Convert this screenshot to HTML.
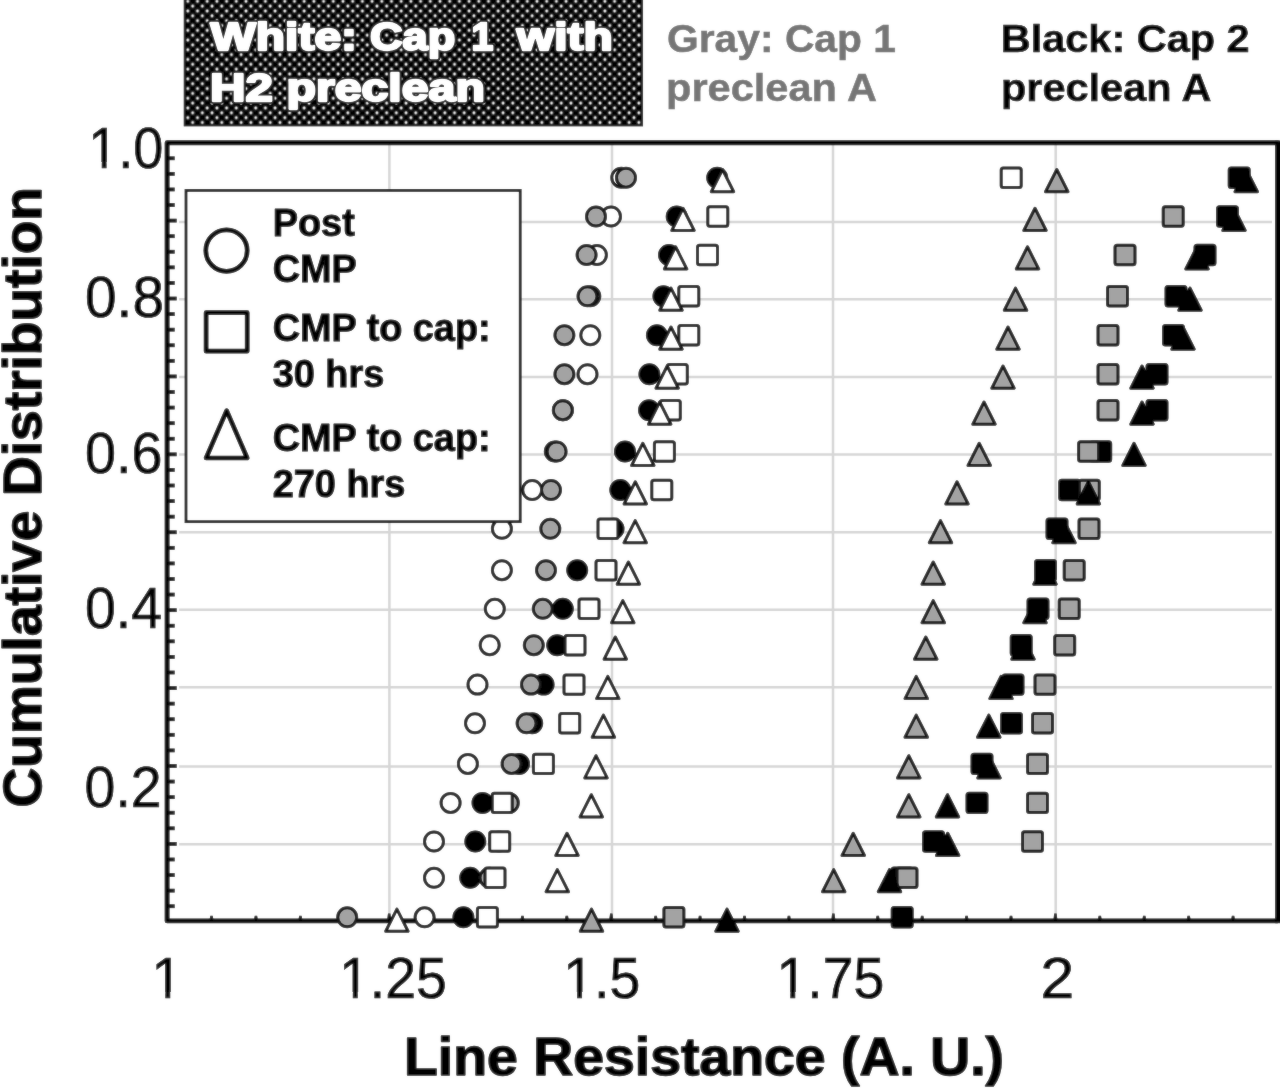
<!DOCTYPE html>
<html lang="en"><head><meta charset="utf-8"><title>Cumulative Distribution vs Line Resistance</title>
<style>
html,body{margin:0;padding:0;background:#fff;}
body{width:1280px;height:1088px;overflow:hidden;}
svg{display:block;}
text{font-family:"Liberation Sans",Arial,Helvetica,sans-serif;}
.b{font-weight:bold;}
</style></head><body>
<svg width="1280" height="1088" viewBox="0 0 1280 1088">
<defs>
<pattern id="dots" x="182.95" y="-3.6" width="9.7" height="9.7" patternUnits="userSpaceOnUse">
<rect width="9.7" height="9.7" fill="#000"/>
<circle cx="4.85" cy="4.85" r="1.6" fill="#dcdcdc"/>
<circle cx="0" cy="0" r="1.6" fill="#dcdcdc"/><circle cx="9.7" cy="0" r="1.6" fill="#dcdcdc"/>
<circle cx="0" cy="9.7" r="1.6" fill="#dcdcdc"/><circle cx="9.7" cy="9.7" r="1.6" fill="#dcdcdc"/>
</pattern>
<g id="wt" class="b" font-size="38.5"><text y="49.6"><tspan x="210.60" textLength="146.42" lengthAdjust="spacingAndGlyphs">White:</tspan> <tspan x="370.01" textLength="85.18" lengthAdjust="spacingAndGlyphs">Cap</tspan> <tspan x="471.48" textLength="21.84" lengthAdjust="spacingAndGlyphs">1</tspan> <tspan x="516.89" textLength="95.97" lengthAdjust="spacingAndGlyphs">with</tspan></text><text y="100.9"><tspan x="209.97" textLength="62.95" lengthAdjust="spacingAndGlyphs">H2</tspan> <tspan x="286.48" textLength="198.43" lengthAdjust="spacingAndGlyphs">preclean</tspan></text></g>
</defs>
<filter id="soft" filterUnits="userSpaceOnUse" x="-30" y="-30" width="1340" height="1148"><feGaussianBlur in="SourceGraphic" stdDeviation="0.85" result="b"/><feComposite in="SourceGraphic" in2="b" operator="arithmetic" k1="0" k2="0.72" k3="0.28" k4="0"/></filter>
<g filter="url(#soft)">
<rect x="-30" y="-30" width="1340" height="1148" fill="#fff"/>
<!-- header -->
<rect x="184.5" y="-2" width="457.8" height="127.6" fill="url(#dots)"/>
<rect x="184.5" y="-2" width="457.8" height="127.6" fill="none" stroke="#000" stroke-width="1.5"/>
<use href="#wt" fill="#fff" stroke="#000" stroke-width="5.4" stroke-linejoin="round"/><use href="#wt" fill="#fff" stroke="#fff" stroke-width="2.3" stroke-linejoin="round"/>
<g class="b" font-size="38.5" fill="#757575" stroke="#757575" stroke-width="0.5">
<text x="667" y="52" textLength="229" lengthAdjust="spacingAndGlyphs">Gray: Cap 1</text>
<text x="666" y="100.6" textLength="211" lengthAdjust="spacingAndGlyphs">preclean A</text>
</g>
<g class="b" font-size="38.5" fill="#000" stroke="#000" stroke-width="0.6">
<text x="1000.7" y="52" textLength="249" lengthAdjust="spacingAndGlyphs">Black: Cap 2</text>
<text x="1001" y="100.6" textLength="210.5" lengthAdjust="spacingAndGlyphs">preclean A</text>
</g>
<!-- plot -->
<g stroke="#d6d6d6" stroke-width="2.5" fill="none"><line x1="389.4" y1="142.8" x2="389.4" y2="920.9"/><line x1="612" y1="142.8" x2="612" y2="920.9"/><line x1="833" y1="142.8" x2="833" y2="920.9"/><line x1="1055.7" y1="142.8" x2="1055.7" y2="920.9"/><line x1="179.1" y1="222" x2="1272.0" y2="222"/><line x1="179.1" y1="299.3" x2="1272.0" y2="299.3"/><line x1="179.1" y1="377" x2="1272.0" y2="377"/><line x1="179.1" y1="454.6" x2="1272.0" y2="454.6"/><line x1="179.1" y1="532.2" x2="1272.0" y2="532.2"/><line x1="179.1" y1="609.8" x2="1272.0" y2="609.8"/><line x1="179.1" y1="687.2" x2="1272.0" y2="687.2"/><line x1="179.1" y1="766.6" x2="1272.0" y2="766.6"/><line x1="179.1" y1="844.2" x2="1272.0" y2="844.2"/></g>
<g stroke="#000" stroke-width="3.8" stroke-linecap="butt"><line x1="167.1" y1="906.22" x2="174.7" y2="906.22"/><line x1="167.1" y1="890.64" x2="174.7" y2="890.64"/><line x1="167.1" y1="875.05" x2="174.7" y2="875.05"/><line x1="167.1" y1="859.47" x2="174.7" y2="859.47"/><line x1="167.1" y1="843.89" x2="176.7" y2="843.89"/><line x1="167.1" y1="828.31" x2="174.7" y2="828.31"/><line x1="167.1" y1="812.73" x2="174.7" y2="812.73"/><line x1="167.1" y1="797.14" x2="174.7" y2="797.14"/><line x1="167.1" y1="781.56" x2="174.7" y2="781.56"/><line x1="167.1" y1="765.98" x2="176.7" y2="765.98"/><line x1="167.1" y1="750.40" x2="174.7" y2="750.40"/><line x1="167.1" y1="734.82" x2="174.7" y2="734.82"/><line x1="167.1" y1="719.23" x2="174.7" y2="719.23"/><line x1="167.1" y1="703.65" x2="174.7" y2="703.65"/><line x1="167.1" y1="688.07" x2="176.7" y2="688.07"/><line x1="167.1" y1="672.49" x2="174.7" y2="672.49"/><line x1="167.1" y1="656.91" x2="174.7" y2="656.91"/><line x1="167.1" y1="641.32" x2="174.7" y2="641.32"/><line x1="167.1" y1="625.74" x2="174.7" y2="625.74"/><line x1="167.1" y1="610.16" x2="176.7" y2="610.16"/><line x1="167.1" y1="594.58" x2="174.7" y2="594.58"/><line x1="167.1" y1="579.00" x2="174.7" y2="579.00"/><line x1="167.1" y1="563.41" x2="174.7" y2="563.41"/><line x1="167.1" y1="547.83" x2="174.7" y2="547.83"/><line x1="167.1" y1="532.25" x2="176.7" y2="532.25"/><line x1="167.1" y1="516.67" x2="174.7" y2="516.67"/><line x1="167.1" y1="501.09" x2="174.7" y2="501.09"/><line x1="167.1" y1="485.50" x2="174.7" y2="485.50"/><line x1="167.1" y1="469.92" x2="174.7" y2="469.92"/><line x1="167.1" y1="454.34" x2="176.7" y2="454.34"/><line x1="167.1" y1="438.76" x2="174.7" y2="438.76"/><line x1="167.1" y1="423.18" x2="174.7" y2="423.18"/><line x1="167.1" y1="407.59" x2="174.7" y2="407.59"/><line x1="167.1" y1="392.01" x2="174.7" y2="392.01"/><line x1="167.1" y1="376.43" x2="176.7" y2="376.43"/><line x1="167.1" y1="360.85" x2="174.7" y2="360.85"/><line x1="167.1" y1="345.27" x2="174.7" y2="345.27"/><line x1="167.1" y1="329.68" x2="174.7" y2="329.68"/><line x1="167.1" y1="314.10" x2="174.7" y2="314.10"/><line x1="167.1" y1="298.52" x2="176.7" y2="298.52"/><line x1="167.1" y1="282.94" x2="174.7" y2="282.94"/><line x1="167.1" y1="267.36" x2="174.7" y2="267.36"/><line x1="167.1" y1="251.77" x2="174.7" y2="251.77"/><line x1="167.1" y1="236.19" x2="174.7" y2="236.19"/><line x1="167.1" y1="220.61" x2="176.7" y2="220.61"/><line x1="167.1" y1="205.03" x2="174.7" y2="205.03"/><line x1="167.1" y1="189.45" x2="174.7" y2="189.45"/><line x1="167.1" y1="173.86" x2="174.7" y2="173.86"/><line x1="167.1" y1="158.28" x2="174.7" y2="158.28"/></g>
<g fill="#000"><path d="M209.32 920.9L210.32 915.70H212.72L213.72 920.9Z"/><path d="M253.73 920.9L254.73 915.70H257.13L258.13 920.9Z"/><path d="M298.15 920.9L299.15 915.70H301.55L302.55 920.9Z"/><path d="M342.56 920.9L343.56 915.70H345.96L346.96 920.9Z"/><path d="M386.98 920.9L387.98 913.40H390.38L391.38 920.9Z"/><path d="M431.40 920.9L432.40 915.70H434.80L435.80 920.9Z"/><path d="M475.81 920.9L476.81 915.70H479.21L480.21 920.9Z"/><path d="M520.23 920.9L521.23 915.70H523.63L524.63 920.9Z"/><path d="M564.64 920.9L565.64 915.70H568.04L569.04 920.9Z"/><path d="M609.06 920.9L610.06 913.40H612.46L613.46 920.9Z"/><path d="M653.48 920.9L654.48 915.70H656.88L657.88 920.9Z"/><path d="M697.89 920.9L698.89 915.70H701.29L702.29 920.9Z"/><path d="M742.31 920.9L743.31 915.70H745.71L746.71 920.9Z"/><path d="M786.72 920.9L787.72 915.70H790.12L791.12 920.9Z"/><path d="M831.14 920.9L832.14 913.40H834.54L835.54 920.9Z"/><path d="M875.56 920.9L876.56 915.70H878.96L879.96 920.9Z"/><path d="M919.97 920.9L920.97 915.70H923.37L924.37 920.9Z"/><path d="M964.39 920.9L965.39 915.70H967.79L968.79 920.9Z"/><path d="M1008.80 920.9L1009.80 915.70H1012.20L1013.20 920.9Z"/><path d="M1053.22 920.9L1054.22 913.40H1056.62L1057.62 920.9Z"/><path d="M1097.64 920.9L1098.64 915.70H1101.04L1102.04 920.9Z"/><path d="M1142.05 920.9L1143.05 915.70H1145.45L1146.45 920.9Z"/><path d="M1186.47 920.9L1187.47 915.70H1189.87L1190.87 920.9Z"/><path d="M1230.88 920.9L1231.88 915.70H1234.28L1235.28 920.9Z"/></g>
<rect x="167.1" y="142.8" width="1110.4" height="778.0999999999999" fill="none" stroke="#000" stroke-width="4.9" stroke-linejoin="round"/>
<rect x="1275.25" y="140.5" width="14" height="782.6999999999999" fill="#000"/>
<g stroke="#111" stroke-width="3" stroke-linejoin="round">
<circle cx="621.3" cy="177.7" r="9.5" fill="#fff"/>
<circle cx="611.0" cy="216.5" r="9.5" fill="#fff"/>
<circle cx="596.9" cy="255.0" r="9.5" fill="#fff"/>
<circle cx="590.3" cy="296.3" r="9.5" fill="#fff"/>
<circle cx="590.3" cy="335.2" r="9.5" fill="#fff"/>
<circle cx="587.5" cy="374.2" r="9.5" fill="#fff"/>
<circle cx="563.0" cy="410.2" r="9.5" fill="#fff"/>
<circle cx="554.8" cy="451.5" r="9.5" fill="#fff"/>
<circle cx="532.2" cy="490.0" r="9.5" fill="#fff"/>
<circle cx="501.9" cy="528.8" r="9.5" fill="#fff"/>
<circle cx="501.9" cy="570.2" r="9.5" fill="#fff"/>
<circle cx="494.8" cy="608.8" r="9.5" fill="#fff"/>
<circle cx="489.7" cy="645.2" r="9.5" fill="#fff"/>
<circle cx="477.5" cy="684.6" r="9.5" fill="#fff"/>
<circle cx="475.0" cy="723.3" r="9.5" fill="#fff"/>
<circle cx="467.9" cy="763.9" r="9.5" fill="#fff"/>
<circle cx="450.6" cy="802.9" r="9.5" fill="#fff"/>
<circle cx="434.0" cy="841.5" r="9.5" fill="#fff"/>
<circle cx="434.0" cy="877.8" r="9.5" fill="#fff"/>
<circle cx="424.6" cy="917.3" r="9.5" fill="#fff"/>
<circle cx="717.2" cy="177.7" r="9.5" fill="#000" stroke="#000"/>
<circle cx="676.7" cy="216.5" r="9.5" fill="#000" stroke="#000"/>
<circle cx="669.0" cy="255.0" r="9.5" fill="#000" stroke="#000"/>
<circle cx="663.4" cy="296.3" r="9.5" fill="#000" stroke="#000"/>
<circle cx="656.9" cy="335.2" r="9.5" fill="#000" stroke="#000"/>
<circle cx="649.4" cy="374.2" r="9.5" fill="#000" stroke="#000"/>
<circle cx="649.0" cy="410.2" r="9.5" fill="#000" stroke="#000"/>
<circle cx="625.0" cy="451.5" r="9.5" fill="#000" stroke="#000"/>
<circle cx="620.3" cy="490.0" r="9.5" fill="#000" stroke="#000"/>
<circle cx="613.5" cy="528.8" r="9.5" fill="#000" stroke="#000"/>
<circle cx="577.2" cy="570.2" r="9.5" fill="#000" stroke="#000"/>
<circle cx="562.8" cy="608.8" r="9.5" fill="#000" stroke="#000"/>
<circle cx="557.2" cy="645.2" r="9.5" fill="#000" stroke="#000"/>
<circle cx="543.6" cy="684.6" r="9.5" fill="#000" stroke="#000"/>
<circle cx="532.2" cy="723.3" r="9.5" fill="#000" stroke="#000"/>
<circle cx="519.0" cy="763.9" r="9.5" fill="#000" stroke="#000"/>
<circle cx="482.5" cy="802.9" r="9.5" fill="#000" stroke="#000"/>
<circle cx="475.3" cy="841.5" r="9.5" fill="#000" stroke="#000"/>
<circle cx="470.2" cy="877.8" r="9.5" fill="#000" stroke="#000"/>
<circle cx="463.4" cy="917.3" r="9.5" fill="#000" stroke="#000"/>
<circle cx="626.0" cy="177.7" r="9.5" fill="#a3a3a3"/>
<circle cx="596.0" cy="216.5" r="9.5" fill="#a3a3a3"/>
<circle cx="586.6" cy="255.0" r="9.5" fill="#a3a3a3"/>
<circle cx="587.5" cy="296.3" r="9.5" fill="#a3a3a3"/>
<circle cx="564.4" cy="335.2" r="9.5" fill="#a3a3a3"/>
<circle cx="564.4" cy="374.2" r="9.5" fill="#a3a3a3"/>
<circle cx="562.8" cy="410.2" r="9.5" fill="#a3a3a3"/>
<circle cx="556.6" cy="451.5" r="9.5" fill="#a3a3a3"/>
<circle cx="551.0" cy="490.0" r="9.5" fill="#a3a3a3"/>
<circle cx="550.3" cy="528.8" r="9.5" fill="#a3a3a3"/>
<circle cx="546.0" cy="570.2" r="9.5" fill="#a3a3a3"/>
<circle cx="542.8" cy="608.8" r="9.5" fill="#a3a3a3"/>
<circle cx="533.8" cy="645.2" r="9.5" fill="#a3a3a3"/>
<circle cx="531.0" cy="684.6" r="9.5" fill="#a3a3a3"/>
<circle cx="526.6" cy="723.3" r="9.5" fill="#a3a3a3"/>
<circle cx="511.6" cy="763.9" r="9.5" fill="#a3a3a3"/>
<circle cx="508.8" cy="802.9" r="9.5" fill="#a3a3a3"/>
<circle cx="499.0" cy="841.5" r="9.5" fill="#a3a3a3"/>
<circle cx="489.5" cy="877.8" r="9.5" fill="#a3a3a3"/>
<circle cx="347.2" cy="917.3" r="9.5" fill="#a3a3a3"/>
<rect x="1001.2" y="168.0" width="20" height="19.4" rx="2" fill="#fff"/>
<rect x="707.8" y="206.8" width="20" height="19.4" rx="2" fill="#fff"/>
<rect x="697.5" y="245.3" width="20" height="19.4" rx="2" fill="#fff"/>
<rect x="678.8" y="286.6" width="20" height="19.4" rx="2" fill="#fff"/>
<rect x="678.8" y="325.5" width="20" height="19.4" rx="2" fill="#fff"/>
<rect x="667.3" y="364.5" width="20" height="19.4" rx="2" fill="#fff"/>
<rect x="660.3" y="400.5" width="20" height="19.4" rx="2" fill="#fff"/>
<rect x="654.4" y="441.8" width="20" height="19.4" rx="2" fill="#fff"/>
<rect x="651.8" y="480.3" width="20" height="19.4" rx="2" fill="#fff"/>
<rect x="598.0" y="519.1" width="20" height="19.4" rx="2" fill="#fff"/>
<rect x="596.0" y="560.5" width="20" height="19.4" rx="2" fill="#fff"/>
<rect x="579.0" y="599.1" width="20" height="19.4" rx="2" fill="#fff"/>
<rect x="565.0" y="635.5" width="20" height="19.4" rx="2" fill="#fff"/>
<rect x="564.0" y="674.9" width="20" height="19.4" rx="2" fill="#fff"/>
<rect x="559.7" y="713.6" width="20" height="19.4" rx="2" fill="#fff"/>
<rect x="533.4" y="754.2" width="20" height="19.4" rx="2" fill="#fff"/>
<rect x="492.2" y="793.2" width="20" height="19.4" rx="2" fill="#fff"/>
<rect x="489.7" y="831.8" width="20" height="19.4" rx="2" fill="#fff"/>
<rect x="485.0" y="868.1" width="20" height="19.4" rx="2" fill="#fff"/>
<rect x="477.4" y="907.6" width="20" height="19.4" rx="2" fill="#fff"/>
<rect x="1229.2" y="168.0" width="20" height="19.4" rx="2" fill="#000" stroke="#000"/>
<rect x="1217.5" y="206.8" width="20" height="19.4" rx="2" fill="#000" stroke="#000"/>
<rect x="1195.0" y="245.3" width="20" height="19.4" rx="2" fill="#000" stroke="#000"/>
<rect x="1166.0" y="286.6" width="20" height="19.4" rx="2" fill="#000" stroke="#000"/>
<rect x="1163.5" y="325.5" width="20" height="19.4" rx="2" fill="#000" stroke="#000"/>
<rect x="1147.0" y="364.5" width="20" height="19.4" rx="2" fill="#000" stroke="#000"/>
<rect x="1147.0" y="400.5" width="20" height="19.4" rx="2" fill="#000" stroke="#000"/>
<rect x="1090.7" y="441.8" width="20" height="19.4" rx="2" fill="#000" stroke="#000"/>
<rect x="1059.7" y="480.3" width="20" height="19.4" rx="2" fill="#000" stroke="#000"/>
<rect x="1047.0" y="519.1" width="20" height="19.4" rx="2" fill="#000" stroke="#000"/>
<rect x="1035.5" y="560.5" width="20" height="19.4" rx="2" fill="#000" stroke="#000"/>
<rect x="1028.0" y="599.1" width="20" height="19.4" rx="2" fill="#000" stroke="#000"/>
<rect x="1011.2" y="635.5" width="20" height="19.4" rx="2" fill="#000" stroke="#000"/>
<rect x="1003.0" y="674.9" width="20" height="19.4" rx="2" fill="#000" stroke="#000"/>
<rect x="1001.5" y="713.6" width="20" height="19.4" rx="2" fill="#000" stroke="#000"/>
<rect x="972.0" y="754.2" width="20" height="19.4" rx="2" fill="#000" stroke="#000"/>
<rect x="967.0" y="793.2" width="20" height="19.4" rx="2" fill="#000" stroke="#000"/>
<rect x="923.5" y="831.8" width="20" height="19.4" rx="2" fill="#000" stroke="#000"/>
<rect x="892.0" y="868.1" width="20" height="19.4" rx="2" fill="#000" stroke="#000"/>
<rect x="892.2" y="907.6" width="20" height="19.4" rx="2" fill="#000" stroke="#000"/>
<rect x="1163.2" y="206.8" width="20" height="19.4" rx="2" fill="#a3a3a3"/>
<rect x="1115.0" y="245.3" width="20" height="19.4" rx="2" fill="#a3a3a3"/>
<rect x="1107.5" y="286.6" width="20" height="19.4" rx="2" fill="#a3a3a3"/>
<rect x="1098.0" y="325.5" width="20" height="19.4" rx="2" fill="#a3a3a3"/>
<rect x="1098.0" y="364.5" width="20" height="19.4" rx="2" fill="#a3a3a3"/>
<rect x="1098.0" y="400.5" width="20" height="19.4" rx="2" fill="#a3a3a3"/>
<rect x="1078.6" y="441.8" width="20" height="19.4" rx="2" fill="#a3a3a3"/>
<rect x="1079.3" y="480.3" width="20" height="19.4" rx="2" fill="#a3a3a3"/>
<rect x="1079.0" y="519.1" width="20" height="19.4" rx="2" fill="#a3a3a3"/>
<rect x="1064.2" y="560.5" width="20" height="19.4" rx="2" fill="#a3a3a3"/>
<rect x="1059.2" y="599.1" width="20" height="19.4" rx="2" fill="#a3a3a3"/>
<rect x="1054.7" y="635.5" width="20" height="19.4" rx="2" fill="#a3a3a3"/>
<rect x="1035.0" y="674.9" width="20" height="19.4" rx="2" fill="#a3a3a3"/>
<rect x="1032.5" y="713.6" width="20" height="19.4" rx="2" fill="#a3a3a3"/>
<rect x="1027.5" y="754.2" width="20" height="19.4" rx="2" fill="#a3a3a3"/>
<rect x="1027.5" y="793.2" width="20" height="19.4" rx="2" fill="#a3a3a3"/>
<rect x="1022.5" y="831.8" width="20" height="19.4" rx="2" fill="#a3a3a3"/>
<rect x="897.0" y="868.1" width="20" height="19.4" rx="2" fill="#a3a3a3"/>
<rect x="663.9" y="907.6" width="20" height="19.4" rx="2" fill="#a3a3a3"/>
<path d="M722.5 169.5L733.7 191.7H711.3Z" fill="#fff"/>
<path d="M683.0 208.3L694.2 230.5H671.8Z" fill="#fff"/>
<path d="M675.6 246.8L686.8 269.0H664.4Z" fill="#fff"/>
<path d="M671.0 288.1L682.2 310.3H659.8Z" fill="#fff"/>
<path d="M671.0 327.0L682.2 349.2H659.8Z" fill="#fff"/>
<path d="M667.2 366.0L678.4 388.2H656.0Z" fill="#fff"/>
<path d="M659.7 402.0L670.9 424.2H648.5Z" fill="#fff"/>
<path d="M642.8 443.3L654.0 465.5H631.6Z" fill="#fff"/>
<path d="M635.3 481.8L646.5 504.0H624.1Z" fill="#fff"/>
<path d="M635.2 520.6L646.4 542.8H624.0Z" fill="#fff"/>
<path d="M628.4 562.0L639.6 584.2H617.2Z" fill="#fff"/>
<path d="M622.8 600.6L634.0 622.8H611.6Z" fill="#fff"/>
<path d="M615.3 637.0L626.5 659.2H604.1Z" fill="#fff"/>
<path d="M607.8 676.4L619.0 698.6H596.6Z" fill="#fff"/>
<path d="M603.4 715.1L614.6 737.3H592.2Z" fill="#fff"/>
<path d="M596.0 755.7L607.2 777.9H584.8Z" fill="#fff"/>
<path d="M591.3 794.7L602.5 816.9H580.1Z" fill="#fff"/>
<path d="M567.0 833.3L578.2 855.5H555.8Z" fill="#fff"/>
<path d="M557.3 869.6L568.5 891.8H546.1Z" fill="#fff"/>
<path d="M396.9 909.1L408.1 931.3H385.7Z" fill="#fff"/>
<path d="M1056.8 169.5L1068.0 191.7H1045.5Z" fill="#a3a3a3"/>
<path d="M1035.0 208.3L1046.2 230.5H1023.8Z" fill="#a3a3a3"/>
<path d="M1027.5 246.8L1038.7 269.0H1016.3Z" fill="#a3a3a3"/>
<path d="M1015.5 288.1L1026.7 310.3H1004.3Z" fill="#a3a3a3"/>
<path d="M1008.0 327.0L1019.2 349.2H996.8Z" fill="#a3a3a3"/>
<path d="M1003.0 366.0L1014.2 388.2H991.8Z" fill="#a3a3a3"/>
<path d="M984.0 402.0L995.2 424.2H972.8Z" fill="#a3a3a3"/>
<path d="M979.2 443.3L990.5 465.5H968.0Z" fill="#a3a3a3"/>
<path d="M957.0 481.8L968.2 504.0H945.8Z" fill="#a3a3a3"/>
<path d="M940.5 520.6L951.7 542.8H929.3Z" fill="#a3a3a3"/>
<path d="M933.2 562.0L944.5 584.2H922.0Z" fill="#a3a3a3"/>
<path d="M933.2 600.6L944.5 622.8H922.0Z" fill="#a3a3a3"/>
<path d="M925.8 637.0L937.0 659.2H914.5Z" fill="#a3a3a3"/>
<path d="M916.2 676.4L927.5 698.6H905.0Z" fill="#a3a3a3"/>
<path d="M916.2 715.1L927.5 737.3H905.0Z" fill="#a3a3a3"/>
<path d="M908.8 755.7L920.0 777.9H897.5Z" fill="#a3a3a3"/>
<path d="M908.8 794.7L920.0 816.9H897.5Z" fill="#a3a3a3"/>
<path d="M853.2 833.3L864.5 855.5H842.0Z" fill="#a3a3a3"/>
<path d="M833.7 869.6L844.9 891.8H822.5Z" fill="#a3a3a3"/>
<path d="M591.5 909.1L602.7 931.3H580.3Z" fill="#a3a3a3"/>
<path d="M1246.2 169.5L1257.5 191.7H1235.0Z" fill="#000" stroke="#000"/>
<path d="M1234.0 208.3L1245.2 230.5H1222.8Z" fill="#000" stroke="#000"/>
<path d="M1197.0 246.8L1208.2 269.0H1185.8Z" fill="#000" stroke="#000"/>
<path d="M1190.0 288.1L1201.2 310.3H1178.8Z" fill="#000" stroke="#000"/>
<path d="M1183.0 327.0L1194.2 349.2H1171.8Z" fill="#000" stroke="#000"/>
<path d="M1142.0 366.0L1153.2 388.2H1130.8Z" fill="#000" stroke="#000"/>
<path d="M1142.0 402.0L1153.2 424.2H1130.8Z" fill="#000" stroke="#000"/>
<path d="M1134.0 443.3L1145.2 465.5H1122.8Z" fill="#000" stroke="#000"/>
<path d="M1088.4 481.8L1099.6 504.0H1077.2Z" fill="#000" stroke="#000"/>
<path d="M1064.0 520.6L1075.2 542.8H1052.8Z" fill="#000" stroke="#000"/>
<path d="M1045.0 562.0L1056.2 584.2H1033.8Z" fill="#000" stroke="#000"/>
<path d="M1035.0 600.6L1046.2 622.8H1023.8Z" fill="#000" stroke="#000"/>
<path d="M1023.0 637.0L1034.2 659.2H1011.8Z" fill="#000" stroke="#000"/>
<path d="M1001.0 676.4L1012.2 698.6H989.8Z" fill="#000" stroke="#000"/>
<path d="M988.8 715.1L1000.0 737.3H977.5Z" fill="#000" stroke="#000"/>
<path d="M989.0 755.7L1000.2 777.9H977.8Z" fill="#000" stroke="#000"/>
<path d="M947.5 794.7L958.7 816.9H936.3Z" fill="#000" stroke="#000"/>
<path d="M947.7 833.3L958.9 855.5H936.5Z" fill="#000" stroke="#000"/>
<path d="M889.5 869.6L900.7 891.8H878.3Z" fill="#000" stroke="#000"/>
<path d="M727.0 909.1L738.2 931.3H715.8Z" fill="#000" stroke="#000"/>
</g>
<!-- legend -->
<rect x="186" y="190.4" width="334.2" height="331.3" fill="#fff" stroke="#000" stroke-width="2.7"/>
<g fill="none" stroke="#000" stroke-width="4.7" stroke-linejoin="round">
<circle cx="226.5" cy="250.6" r="20.7"/>
<rect x="206.1" y="312.7" width="41.1" height="38.5"/>
<path d="M226.65 410.6L247.2 458H206.1Z"/>
</g>
<text class="b" font-size="38.8" transform="translate(272.8 236.2) scale(0.975 1)" stroke="#000" stroke-width="1.1" stroke-linejoin="round">Post</text>
<text class="b" font-size="38.8" transform="translate(272.8 281.8) scale(0.975 1)" stroke="#000" stroke-width="1.1" stroke-linejoin="round">CMP</text>
<text class="b" font-size="38.8" transform="translate(272.8 340.9) scale(0.975 1)" stroke="#000" stroke-width="1.1" stroke-linejoin="round">CMP to cap:</text>
<text class="b" font-size="38.8" transform="translate(272.8 386.7) scale(0.975 1)" stroke="#000" stroke-width="1.1" stroke-linejoin="round">30 hrs</text>
<text class="b" font-size="38.8" transform="translate(272.8 451.4) scale(0.975 1)" stroke="#000" stroke-width="1.1" stroke-linejoin="round">CMP to cap:</text>
<text class="b" font-size="38.8" transform="translate(272.8 497.2) scale(0.975 1)" stroke="#000" stroke-width="1.1" stroke-linejoin="round">270 hrs</text>
<text font-size="57.7" transform="translate(88.3 168) scale(0.935 1)" stroke="#000" stroke-width="0.7">1.0</text><rect x="90.44" y="162" width="11.30" height="7.5" fill="#fff"/><rect x="106.56" y="162" width="11.20" height="7.5" fill="#fff"/>
<text font-size="57.7" transform="translate(85 316.9) scale(0.985 1)" stroke="#000" stroke-width="0.7">0.8</text>
<text font-size="57.7" transform="translate(85 473) scale(0.965 1)" stroke="#000" stroke-width="0.7">0.6</text>
<text font-size="57.7" transform="translate(85 627.8) scale(0.96 1)" stroke="#000" stroke-width="0.7">0.4</text>
<text font-size="57.7" transform="translate(84.6 807) scale(0.96 1)" stroke="#000" stroke-width="0.7">0.2</text>
<text font-size="57.7" transform="translate(151.5 998) scale(0.96 1)" stroke="#000" stroke-width="0.7">1</text><rect x="153.70" y="992" width="11.60" height="7.5" fill="#fff"/><rect x="170.25" y="992" width="11.50" height="7.5" fill="#fff"/>
<text font-size="57.7" transform="translate(339 998) scale(0.96 1)" stroke="#000" stroke-width="0.7">1.25</text><rect x="341.20" y="992" width="11.60" height="7.5" fill="#fff"/><rect x="357.75" y="992" width="11.50" height="7.5" fill="#fff"/>
<text font-size="57.7" transform="translate(563.3 998) scale(0.96 1)" stroke="#000" stroke-width="0.7">1.5</text><rect x="565.50" y="992" width="11.60" height="7.5" fill="#fff"/><rect x="582.05" y="992" width="11.50" height="7.5" fill="#fff"/>
<text font-size="57.7" transform="translate(776.5 998) scale(0.96 1)" stroke="#000" stroke-width="0.7">1.75</text><rect x="778.70" y="992" width="11.60" height="7.5" fill="#fff"/><rect x="795.25" y="992" width="11.50" height="7.5" fill="#fff"/>
<text font-size="57.7" transform="translate(1040.5 998) scale(1.05 1)" stroke="#000" stroke-width="0.7">2</text>
<text class="b" font-size="54.5" stroke="#000" stroke-width="1.6" stroke-linejoin="round" x="404" y="1075" textLength="600" lengthAdjust="spacingAndGlyphs">Line Resistance (A. U.)</text>
<g class="b" font-size="54.5" stroke="#000" stroke-width="1.6" stroke-linejoin="round" transform="translate(40.5 0) rotate(-90)">
<text y="0"><tspan x="-807.5" textLength="297" lengthAdjust="spacingAndGlyphs">Cumulative</tspan> <tspan x="-496" textLength="309" lengthAdjust="spacingAndGlyphs">Distribution</tspan></text>
</g>
</g>
</svg>
</body></html>
